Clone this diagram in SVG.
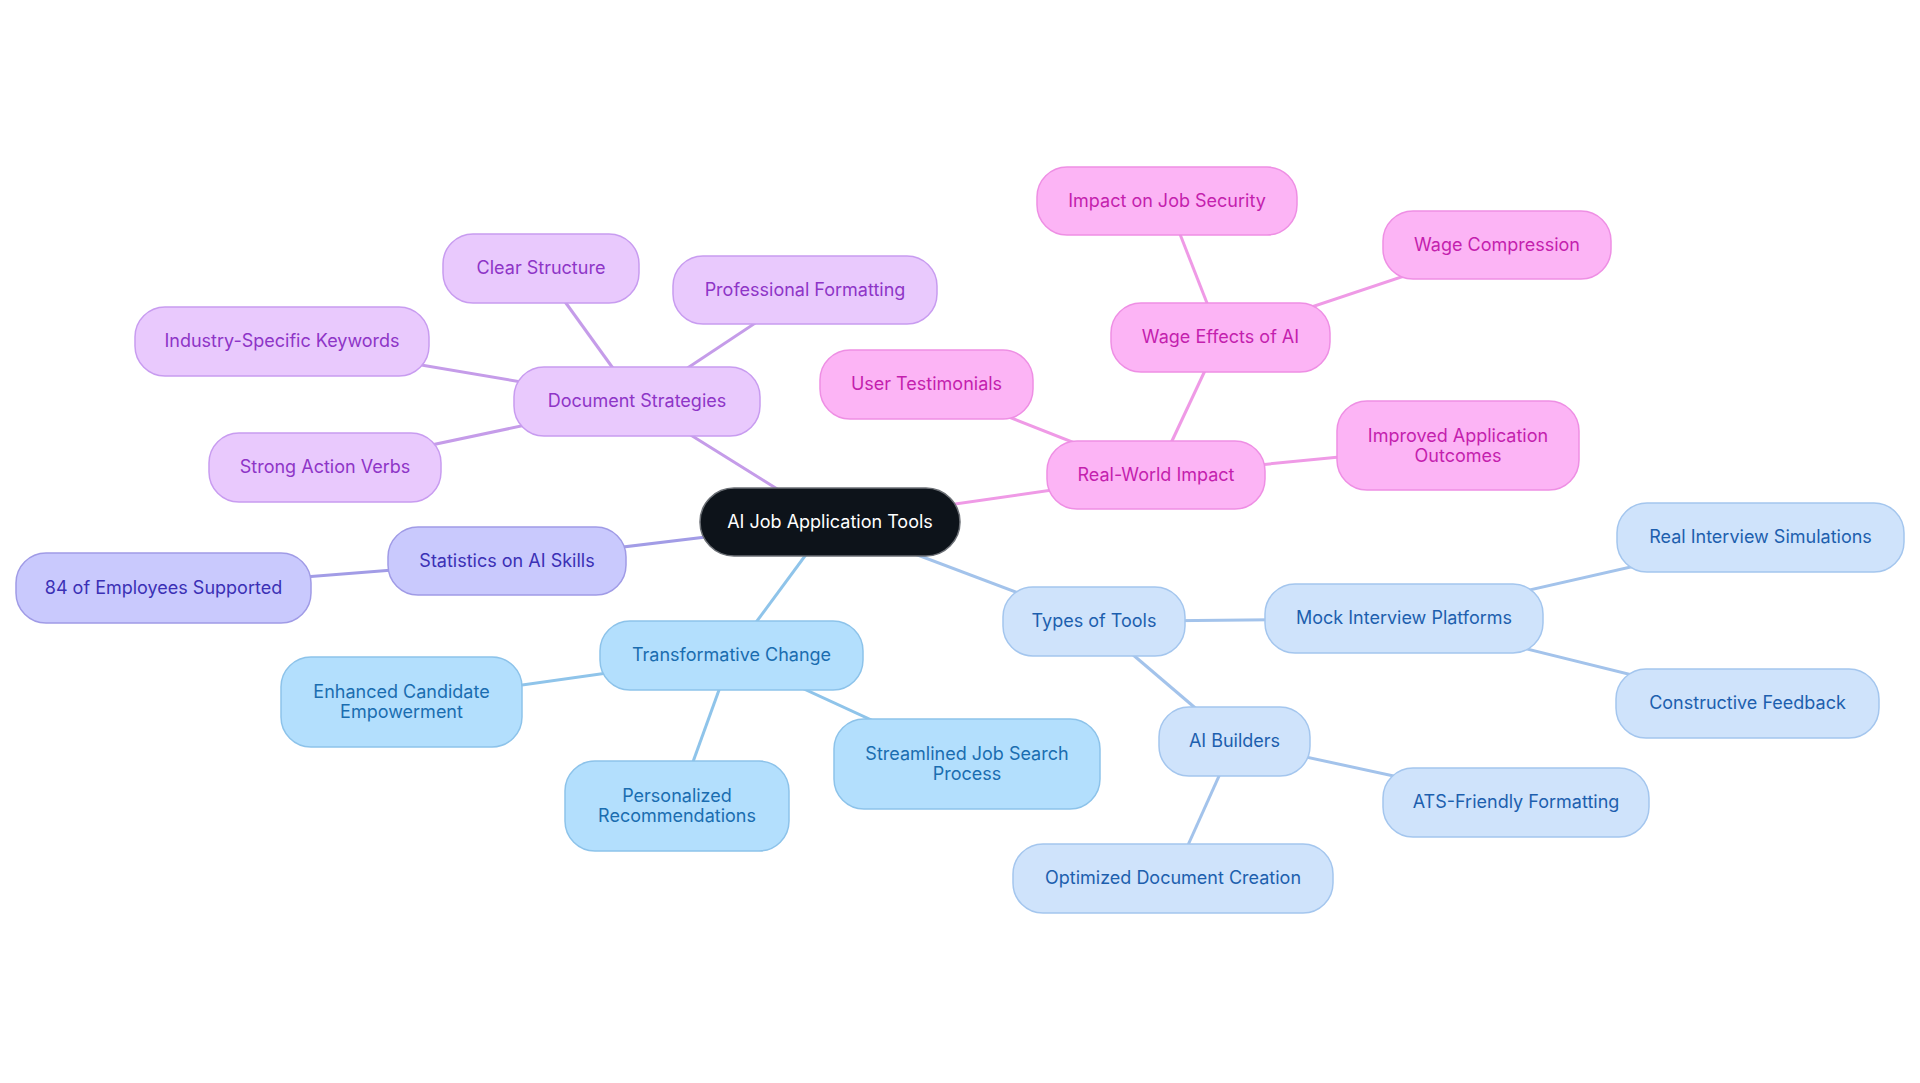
<svg xmlns="http://www.w3.org/2000/svg" width="1920" height="1083" viewBox="0 0 1920 1083">
<style>
text{font-family:Inter,"Noto Sans",sans-serif;font-size:18px;text-anchor:middle;dominant-baseline:central}
.e{stroke-width:3;fill:none}
.root rect{fill:#0d131a;stroke:#6b6f75;stroke-width:1.5}
.root text{fill:#ffffff}
.pu rect{fill:#e9c9fd;stroke:#c89cf0;stroke-width:1.5}
.pu text{fill:#8e35c7}
.pk rect{fill:#fcb4f5;stroke:#ee8fe4;stroke-width:1.5}
.pk text{fill:#c41fae}
.in rect{fill:#c9c9fd;stroke:#a09be6;stroke-width:1.5}
.in text{fill:#3b30b5}
.sk rect{fill:#b3dffd;stroke:#8dc3ea;stroke-width:1.5}
.sk text{fill:#1a6db0}
.pb rect{fill:#cfe3fb;stroke:#a4c6ee;stroke-width:1.5}
.pb text{fill:#1d5fae}
.epu{stroke:#c59ce9}.epk{stroke:#ef9ae6}.ein{stroke:#a29ce6}.esk{stroke:#8fc4ea}.epb{stroke:#a3c3eb}
</style>
<rect width="1920" height="1083" fill="#ffffff"/>
<g id="connectors">
<line class="e epu" x1="830" y1="522" x2="637" y2="401.5"/>
<line class="e epu" x1="637" y1="401.5" x2="541" y2="268.5"/>
<line class="e epu" x1="637" y1="401.5" x2="805" y2="290"/>
<line class="e epu" x1="637" y1="401.5" x2="282" y2="341.5"/>
<line class="e epu" x1="637" y1="401.5" x2="325" y2="467.5"/>
<line class="e ein" x1="830" y1="522" x2="507" y2="561"/>
<line class="e ein" x1="507" y1="561" x2="163.5" y2="588"/>
<line class="e esk" x1="830" y1="522" x2="731.5" y2="655.5"/>
<line class="e esk" x1="731.5" y1="655.5" x2="401.5" y2="702"/>
<line class="e esk" x1="731.5" y1="655.5" x2="677" y2="806"/>
<line class="e esk" x1="731.5" y1="655.5" x2="967" y2="764"/>
<line class="e epb" x1="830" y1="522" x2="1094" y2="621.5"/>
<line class="e epb" x1="1094" y1="621.5" x2="1404" y2="618.5"/>
<line class="e epb" x1="1404" y1="618.5" x2="1760.5" y2="537.5"/>
<line class="e epb" x1="1404" y1="618.5" x2="1747.5" y2="703.5"/>
<line class="e epb" x1="1094" y1="621.5" x2="1234.5" y2="741.5"/>
<line class="e epb" x1="1234.5" y1="741.5" x2="1516" y2="802.5"/>
<line class="e epb" x1="1234.5" y1="741.5" x2="1173" y2="878.5"/>
<line class="e epk" x1="830" y1="522" x2="1156" y2="475"/>
<line class="e epk" x1="1156" y1="475" x2="1220.5" y2="337.5"/>
<line class="e epk" x1="1220.5" y1="337.5" x2="1167" y2="201"/>
<line class="e epk" x1="1220.5" y1="337.5" x2="1497" y2="245"/>
<line class="e epk" x1="1156" y1="475" x2="1458" y2="445.5"/>
<line class="e epk" x1="1156" y1="475" x2="926.5" y2="384.5"/>
</g>
<g id="root" class="root"><rect x="700" y="488" width="260" height="68" rx="34"/><text x="830" y="521">AI Job Application Tools</text></g>
<g id="doc-strategies" class="pu"><rect x="514" y="367" width="246" height="69" rx="30"/><text x="637" y="400.5">Document Strategies</text></g>
<g id="clear-structure" class="pu"><rect x="443" y="234" width="196" height="69" rx="30"/><text x="541" y="267.5">Clear Structure</text></g>
<g id="professional-formatting" class="pu"><rect x="673" y="256" width="264" height="68" rx="30"/><text x="805" y="289">Professional Formatting</text></g>
<g id="industry-keywords" class="pu"><rect x="135" y="307" width="294" height="69" rx="30"/><text x="282" y="340.5">Industry-Specific Keywords</text></g>
<g id="strong-verbs" class="pu"><rect x="209" y="433" width="232" height="69" rx="30"/><text x="325" y="466.5">Strong Action Verbs</text></g>
<g id="statistics" class="in"><rect x="388" y="527" width="238" height="68" rx="30"/><text x="507" y="560">Statistics on AI Skills</text></g>
<g id="employees" class="in"><rect x="16" y="553" width="295" height="70" rx="30"/><text x="163.5" y="587">84 of Employees Supported</text></g>
<g id="transformative" class="sk"><rect x="600" y="621" width="263" height="69" rx="30"/><text x="731.5" y="654.5">Transformative Change</text></g>
<g id="empowerment" class="sk"><rect x="281" y="657" width="241" height="90" rx="30"/><text x="401.5" y="691">Enhanced Candidate</text><text x="401.5" y="711">Empowerment</text></g>
<g id="personalized" class="sk"><rect x="565" y="761" width="224" height="90" rx="30"/><text x="677" y="795">Personalized</text><text x="677" y="815">Recommendations</text></g>
<g id="streamlined" class="sk"><rect x="834" y="719" width="266" height="90" rx="30"/><text x="967" y="753">Streamlined Job Search</text><text x="967" y="773">Process</text></g>
<g id="types-of-tools" class="pb"><rect x="1003" y="587" width="182" height="69" rx="30"/><text x="1094" y="620.5">Types of Tools</text></g>
<g id="mock-interview" class="pb"><rect x="1265" y="584" width="278" height="69" rx="30"/><text x="1404" y="617.5">Mock Interview Platforms</text></g>
<g id="real-interview" class="pb"><rect x="1617" y="503" width="287" height="69" rx="30"/><text x="1760.5" y="536.5">Real Interview Simulations</text></g>
<g id="constructive-feedback" class="pb"><rect x="1616" y="669" width="263" height="69" rx="30"/><text x="1747.5" y="702.5">Constructive Feedback</text></g>
<g id="ai-builders" class="pb"><rect x="1159" y="707" width="151" height="69" rx="30"/><text x="1234.5" y="740.5">AI Builders</text></g>
<g id="ats-formatting" class="pb"><rect x="1383" y="768" width="266" height="69" rx="30"/><text x="1516" y="801.5">ATS-Friendly Formatting</text></g>
<g id="optimized-doc" class="pb"><rect x="1013" y="844" width="320" height="69" rx="30"/><text x="1173" y="877.5">Optimized Document Creation</text></g>
<g id="real-world" class="pk"><rect x="1047" y="441" width="218" height="68" rx="30"/><text x="1156" y="474">Real-World Impact</text></g>
<g id="job-security" class="pk"><rect x="1037" y="167" width="260" height="68" rx="30"/><text x="1167" y="200">Impact on Job Security</text></g>
<g id="wage-compression" class="pk"><rect x="1383" y="211" width="228" height="68" rx="30"/><text x="1497" y="244">Wage Compression</text></g>
<g id="wage-effects" class="pk"><rect x="1111" y="303" width="219" height="69" rx="30"/><text x="1220.5" y="336.5">Wage Effects of AI</text></g>
<g id="improved-outcomes" class="pk"><rect x="1337" y="401" width="242" height="89" rx="30"/><text x="1458" y="435">Improved Application</text><text x="1458" y="455">Outcomes</text></g>
<g id="user-testimonials" class="pk"><rect x="820" y="350" width="213" height="69" rx="30"/><text x="926.5" y="383.5">User Testimonials</text></g>
</svg>
